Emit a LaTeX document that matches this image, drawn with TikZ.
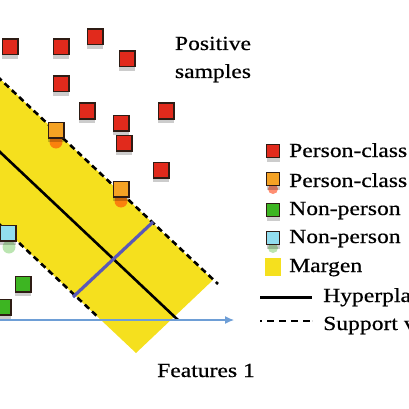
\documentclass[tikz,border=0pt]{standalone}
\usepackage{fontspec}
\setmainfont{Liberation Serif}[FakeStretch=1.18,FakeBold=0.6]
\usepackage{tikz}
\usetikzlibrary{shadows,arrows.meta}

\definecolor{bandyellow}{HTML}{F5E01E}
\definecolor{posred}{HTML}{E12A1C}
\definecolor{suporange}{HTML}{F5A224}
\definecolor{neggreen}{HTML}{3DB522}
\definecolor{supcyan}{HTML}{92DDEE}
\definecolor{edgedark}{HTML}{2E1C14}
\definecolor{normalblue}{HTML}{5A58B8}
\definecolor{axisblue}{HTML}{6E9ED6}

\tikzset{
  sample/.style={draw=edgedark, line width=1.5pt, minimum size=15.5pt, inner sep=0pt,
    drop shadow={shadow xshift=0pt, shadow yshift=-4pt, fill=black, opacity=0.2}},
  possq/.style={sample, fill=posred},
  supos/.style={sample, fill=suporange},
  negsq/.style={sample, fill=neggreen},
  supneg/.style={sample, fill=supcyan},
  keysq/.style={minimum size=13pt},
  label/.style={font=\fontsize{20}{24}\selectfont, inner sep=0pt},
  supportline/.style={line width=2.6pt, dash pattern=on 6pt off 4pt},
  hyperline/.style={line width=2.6pt}
}

\begin{document}
\begin{tikzpicture}[x=1pt,y=-1pt]
\useasboundingbox (0,0) rectangle (409,409);
\clip (0,0) rectangle (409,409);
% margin band
\coordinate (bandtl) at (-20,60);
\coordinate (bandtr) at (213,280);
\coordinate (bandbr) at (136,353);
\coordinate (bandbl) at (-20,206);
\fill[bandyellow] (bandtl) -- (bandtr) -- (bandbr) -- (bandbl) -- cycle;
% hyperplane and support lines
\coordinate (hypa) at (-10,142.6);
\coordinate (hypb) at (178,320);
\coordinate (upa) at (-10,69.6);
\coordinate (upb) at (218,284);
\coordinate (lowa) at (-10,215.6);
\coordinate (lowb) at (99,318);
\draw[hyperline] (hypa) -- (hypb);
\draw[supportline] (upa) -- (upb);
\draw[supportline] (lowa) -- (lowb);
\coordinate (norma) at (73,297);
\coordinate (normb) at (153,222);
\draw[normalblue, line width=3.2pt] (norma) -- (normb);
% axis
\coordinate (axl) at (-5,320);
\coordinate (axr) at (234,320);
\draw[axisblue, line width=1.2pt, -{Latex[length=9pt,width=8pt]}] (axl) -- (axr);
% glows
\fill[orange!40!red, opacity=0.55] (56,142) circle (6.5);
\fill[orange!40!red, opacity=0.55] (121,201) circle (6.5);
\fill[neggreen!70, opacity=0.5] (9,247) circle (6.5);
% samples
\node[possq] (p1) at (10,47) {};
\node[possq] (p2) at (61,47) {};
\node[possq] (p3) at (95,37) {};
\node[possq] (p4) at (127,59) {};
\node[possq] (p5) at (61,84) {};
\node[possq] (p6) at (87,111) {};
\node[possq] (p7) at (121,123) {};
\node[possq] (p8) at (124,143) {};
\node[possq] (p9) at (166,111) {};
\node[possq] (p10) at (161,170) {};
\node[supos] (s1) at (56,130) {};
\node[supos] (s2) at (121,189) {};
\node[supneg] (s3) at (8,233) {};
\node[negsq] (n1) at (23,284) {};
\node[negsq] (n2) at (3,307) {};
% labels
\node[label, anchor=base] (pos1) at (213,50) {Positive};
\node[label, anchor=base] (pos2) at (213,78) {samples};
\node[label, anchor=base west] (feat) at (157,377) {Features 1};
% legend
\fill[orange!40!red, opacity=0.55] (273,189) circle (5);
\fill[neggreen!70, opacity=0.5] (273,248) circle (5);
\node[possq, keysq] (kpos) at (273,151) {};
\node[supos, keysq] (ksup) at (273,179) {};
\node[negsq, keysq] (kneg) at (273,210) {};
\node[supneg, keysq] (kcyan) at (273,238) {};
\fill[bandyellow] (265,258) rectangle (281,276);
\coordinate (khypa) at (260,297);
\coordinate (khypb) at (312,297);
\coordinate (ksupa) at (260,321);
\coordinate (ksupb) at (312,321);
\draw[hyperline, line width=3pt] (khypa) -- (khypb);
\draw[supportline, line width=2.4pt, dash pattern=on 2pt off 5pt on 7pt off 5pt on 7pt off 5pt on 7pt off 5pt on 7pt] (ksupa) -- (ksupb);
\node[label, anchor=base west] (tpos) at (289,157) {Person-class};
\node[label, anchor=base west] (tsup) at (289,187) {Person-class};
\node[label, anchor=base west] (tneg) at (289,215) {Non-person};
\node[label, anchor=base west] (tcyan) at (289,243) {Non-person};
\node[label, anchor=base west] (tmarg) at (289,272) {Margen};
\node[label, anchor=base west] (thyp) at (323,302) {Hyperplane};
\node[label, anchor=base west] (tsupv) at (323,330) {Support vectors};
\end{tikzpicture}
\end{document}
